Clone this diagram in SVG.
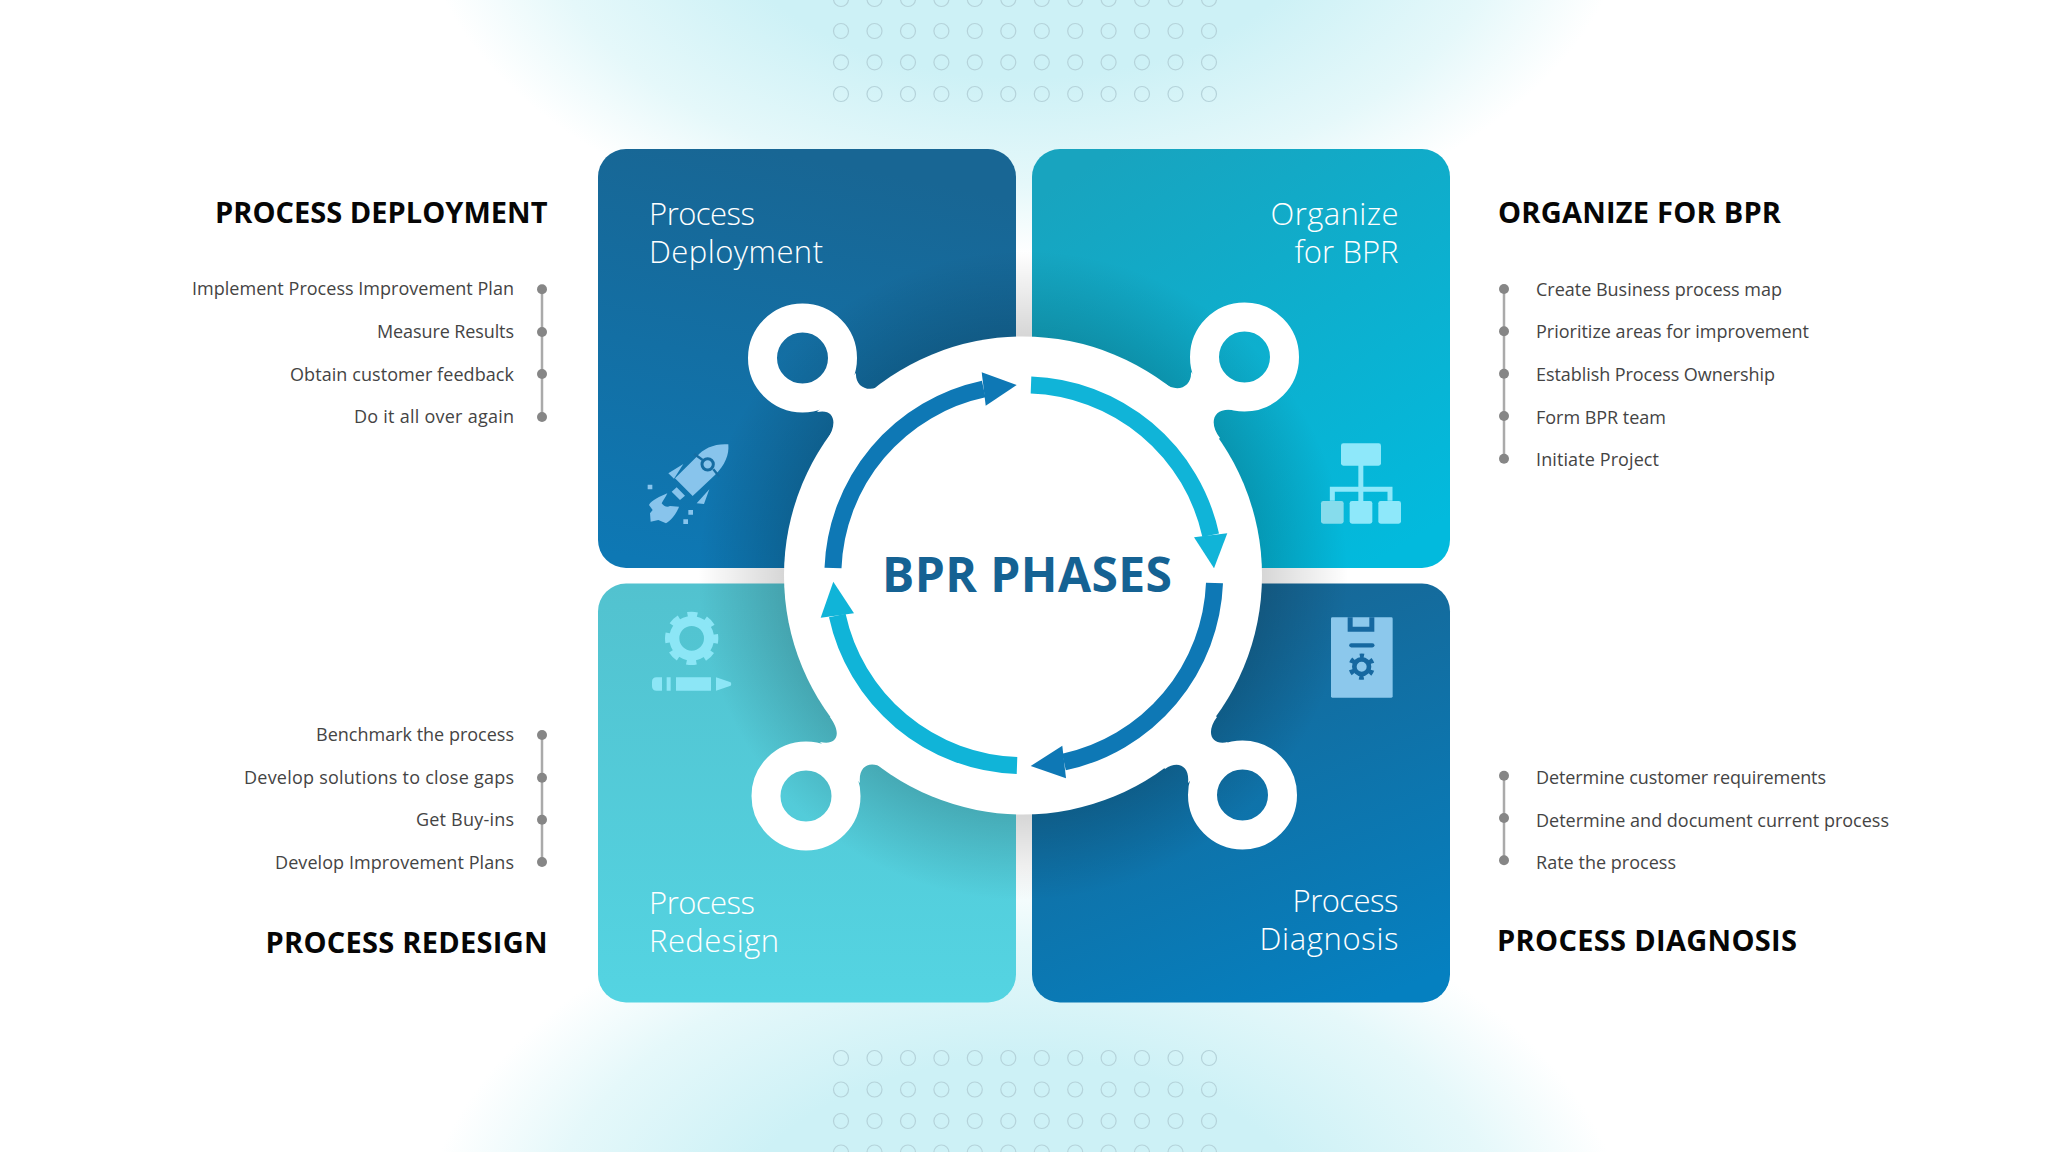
<svg xmlns="http://www.w3.org/2000/svg" xmlns:xlink="http://www.w3.org/1999/xlink" width="2048" height="1152" viewBox="0 0 2048 1152">
<defs>
<radialGradient id="glowT" gradientUnits="userSpaceOnUse" cx="0" cy="0" r="1" gradientTransform="translate(1024 -100) scale(605 355)"><stop offset="0.5" stop-color="#cdf1f6"/><stop offset="0.8" stop-color="#e5f8fa"/><stop offset="1" stop-color="#ffffff"/></radialGradient>
<radialGradient id="glowB" gradientUnits="userSpaceOnUse" cx="0" cy="0" r="1" gradientTransform="translate(1024 1252) scale(605 385)"><stop offset="0.5" stop-color="#cdf1f6"/><stop offset="0.8" stop-color="#e5f8fa"/><stop offset="1" stop-color="#ffffff"/></radialGradient>
<linearGradient id="gTL" x1="0.4" y1="0" x2="0.2" y2="1"><stop offset="0" stop-color="#186694"/><stop offset="1" stop-color="#0e78b4"/></linearGradient>
<linearGradient id="gTR" x1="0.2" y1="0" x2="0.8" y2="1"><stop offset="0" stop-color="#18a4bf"/><stop offset="1" stop-color="#02badd"/></linearGradient>
<linearGradient id="gBL" x1="0.5" y1="0" x2="0.5" y2="1"><stop offset="0" stop-color="#52c2cf"/><stop offset="1" stop-color="#54d4e2"/></linearGradient>
<linearGradient id="gBR" x1="0.4" y1="0" x2="0.8" y2="1"><stop offset="0" stop-color="#186694"/><stop offset="1" stop-color="#0580c0"/></linearGradient>
<radialGradient id="shade" gradientUnits="userSpaceOnUse" cx="1023" cy="575.5" r="325"><stop offset="0.72" stop-color="#000" stop-opacity="0.17"/><stop offset="0.85" stop-color="#000" stop-opacity="0.09"/><stop offset="1" stop-color="#000" stop-opacity="0"/></radialGradient>
<g id="dotrow"><circle cx="841" cy="0" r="7.5"/><circle cx="874.5" cy="0" r="7.5"/><circle cx="908" cy="0" r="7.5"/><circle cx="941.4" cy="0" r="7.5"/><circle cx="974.8" cy="0" r="7.5"/><circle cx="1008.3" cy="0" r="7.5"/><circle cx="1041.8" cy="0" r="7.5"/><circle cx="1075.2" cy="0" r="7.5"/><circle cx="1108.6" cy="0" r="7.5"/><circle cx="1142" cy="0" r="7.5"/><circle cx="1175.5" cy="0" r="7.5"/><circle cx="1209" cy="0" r="7.5"/></g>
</defs>
<style>
.h{font:700 29px "Open Sans","Noto Sans",sans-serif;fill:#060606}
.b{font:400 18px "Open Sans","Noto Sans",sans-serif;fill:#444444}
.t{font:300 31px "Open Sans","Noto Sans",sans-serif;fill:#ffffff}
.e{text-anchor:end}
.ln{stroke:#aaaaaa;stroke-width:2.5;fill:none}
.dt{fill:#868686}
.dots{fill:none;stroke:#b5d3da;stroke-width:1.2}
.arc{fill:none;stroke-width:17}
.w{fill:#ffffff}
.ring{fill:none;stroke:#ffffff;stroke-width:29}
</style>
<rect width="2048" height="1152" fill="#ffffff"/>
<g id="background">
<rect x="0" y="0" width="2048" height="260" fill="url(#glowT)"/>
<rect x="0" y="860" width="2048" height="292" fill="url(#glowB)"/>
<g class="dots">
<use xlink:href="#dotrow" href="#dotrow" y="-1"/><use xlink:href="#dotrow" href="#dotrow" y="31"/><use xlink:href="#dotrow" href="#dotrow" y="62.3"/><use xlink:href="#dotrow" href="#dotrow" y="94"/>
<use xlink:href="#dotrow" href="#dotrow" y="1058"/><use xlink:href="#dotrow" href="#dotrow" y="1089.5"/><use xlink:href="#dotrow" href="#dotrow" y="1121"/><use xlink:href="#dotrow" href="#dotrow" y="1152.5"/>
</g>
</g>
<g id="node-deployment">
<rect x="598" y="149" width="418" height="419" rx="28" fill="url(#gTL)"/>
<text class="t"><tspan x="649" y="225" textLength="106">Process</tspan><tspan x="649" y="263" textLength="174">Deployment</tspan></text>
</g>
<g id="node-organize">
<rect x="1032" y="149" width="418" height="419" rx="28" fill="url(#gTR)"/>
<text class="t e"><tspan x="1398.5" y="225" textLength="128">Organize</tspan><tspan x="1398.5" y="263" textLength="104">for BPR</tspan></text>
</g>
<g id="node-redesign">
<rect x="598" y="583.5" width="418" height="419" rx="28" fill="url(#gBL)"/>
<text class="t"><tspan x="649" y="913.5" textLength="106">Process</tspan><tspan x="649" y="952" textLength="130">Redesign</tspan></text>
</g>
<g id="node-diagnosis">
<rect x="1032" y="583.5" width="418" height="419" rx="28" fill="url(#gBR)"/>
<text class="t e"><tspan x="1398.5" y="911.5" textLength="106">Process</tspan><tspan x="1398.5" y="950" textLength="139">Diagnosis</tspan></text>
</g>
<circle id="shadow" cx="1023" cy="575.5" r="325" fill="url(#shade)"/>
<g id="icon-rocket" transform="translate(580 130) scale(0.33333)" fill="#88c4ec">
<path d="M445 943C405 940 370 955 350 980L285 1045L338 1098L405 1035C435 1005 448 975 445 943Z"/>
<path d="M343 972L368 990M400 1018L418 1040" stroke="#156ca2" stroke-width="7" fill="none"/>
<circle cx="383" cy="1003" r="17" stroke="#156ca2" stroke-width="9"/>
<path d="M265 1030L310 1002L282 1046ZM350 1120L388 1078L372 1122ZM290 1072L315 1097L300 1110L275 1085Z"/>
<path d="M262 1090C240 1100 215 1110 207 1125L218 1140L210 1150L212 1175L235 1170L258 1180C275 1170 290 1150 297 1130L270 1128C262 1134 250 1128 245 1120C250 1110 258 1100 262 1090Z"/>
<path d="M203 1064h14v14h-14ZM325 1140h14v14h-14ZM310 1168h14v14h-14Z"/>
</g>
<g id="icon-org" transform="translate(1020 130) scale(0.33333)" fill="#8ee8fa">
<rect x="963" y="940" width="120" height="67" rx="7"/>
<rect x="1015" y="1005" width="15" height="108"/>
<path d="M937 1112V1078H1110V1112" fill="none" stroke="#8ee8fa" stroke-width="15"/>
<rect x="903" y="1113" width="68" height="68" rx="7" fill="#86dcec"/><rect x="989" y="1113" width="68" height="68" rx="7"/><rect x="1075" y="1113" width="68" height="68" rx="7"/>
</g>
<g id="icon-gear" transform="translate(580 570) scale(0.33333)" fill="#8ce6f6">
<circle cx="335" cy="205" r="52" fill="none" stroke="#8ce6f6" stroke-width="30"/>
<circle cx="335" cy="205" r="72" fill="none" stroke="#8ce6f6" stroke-width="16" stroke-dasharray="30 26.55" stroke-dashoffset="15"/>
<path d="M246 322H230Q216 322 216 336V348Q216 362 230 362H246ZM260 322h12v40h-12ZM288 322h105v40h-105ZM408 322L452 337Q456 342 452 347L408 362Z"/>
</g>
<g id="icon-clipboard" transform="translate(1020 570) scale(0.33333)">
<rect x="933" y="142" width="185" height="241" rx="4" fill="#8cc8ec"/>
<path d="M983 142H1063V185H983ZM998 142V170H1048V142Z" fill="#1668a0" fill-rule="evenodd"/>
<path d="M994 226H1057" stroke="#1668a0" stroke-width="13" stroke-linecap="round"/>
<circle cx="1025" cy="290" r="22" fill="none" stroke="#1668a0" stroke-width="14"/>
<circle cx="1025" cy="290" r="33" fill="none" stroke="#1668a0" stroke-width="13" stroke-dasharray="14 20.56" stroke-dashoffset="7" transform="rotate(-90 1025 290)"/>
</g>
<g id="node-hub">
<path class="w" d="M856 373C855 386 868 394 882 385L1023 575L827 440C838 424 835 408 817 412Z"/>
<path class="w" d="M1191 372C1192 386 1178 394 1164 383L1023 575L1220 438C1209 424 1212 408 1232 410Z"/>
<path class="w" d="M820 742C836 746 843 735 830 717L1023 575L883 768C870 760 858 766 860 783Z"/>
<path class="w" d="M1228 742C1212 746 1205 733 1217 717L1023 575L1165 769C1178 760 1190 766 1188 783Z"/>
<circle class="w" cx="1023" cy="575.5" r="239"/>
<circle class="ring" cx="802.5" cy="358" r="40"/>
<circle class="ring" cx="1244.5" cy="357" r="40"/>
<circle class="ring" cx="806" cy="796" r="40"/>
<circle class="ring" cx="1242.5" cy="795" r="40"/>
<text x="1027" y="591.5" text-anchor="middle" textLength="290" style="font:700 48px 'Open Sans','Noto Sans',sans-serif;fill:#156293">BPR PHASES</text>
</g>
<g id="connectors">
<path class="arc" stroke="#0e78b5" d="M833 568A190.5 190.5 0 0 1 983.7 389"/><polygon fill="#0e78b5" points="981.7,372.3 1016.7,385 985.7,405.7"/>
<path class="arc" stroke="#10b4d8" d="M1031 385A191 191 0 0 1 1210.7 535.3"/><polygon fill="#10b4d8" points="1194,537.3 1214,568.3 1227.3,533.3"/>
<path class="arc" stroke="#0e78b5" d="M1214.5 583A191 191 0 0 1 1064 762"/><polygon fill="#0e78b5" points="1062.3,745.7 1030.7,766 1066,778.3"/>
<path class="arc" stroke="#10b4d8" d="M1017 765.5A190.5 190.5 0 0 1 837.3 615.5"/><polygon fill="#10b4d8" points="820.7,617.7 833.3,581.7 854,613.3"/>
</g>
<g id="list-deployment">
<text class="h e" x="547.5" y="222.7" textLength="332.5">PROCESS DEPLOYMENT</text>
<path class="ln" d="M542 289V417"/>
<circle class="dt" cx="542" cy="289.3" r="5"/><circle class="dt" cx="542" cy="332" r="5"/><circle class="dt" cx="542" cy="374" r="5"/><circle class="dt" cx="542" cy="417" r="5"/>
<text class="b e" x="514" y="295" textLength="322">Implement Process Improvement Plan</text>
<text class="b e" x="514" y="338" textLength="137">Measure Results</text>
<text class="b e" x="514" y="380.5" textLength="224">Obtain customer feedback</text>
<text class="b e" x="514" y="423" textLength="160">Do it all over again</text>
</g>
<g id="list-organize">
<text class="h" x="1498" y="222.7" textLength="283">ORGANIZE FOR BPR</text>
<path class="ln" d="M1504 289V458.7"/>
<circle class="dt" cx="1504" cy="289" r="5"/><circle class="dt" cx="1504" cy="331.3" r="5"/><circle class="dt" cx="1504" cy="373.7" r="5"/><circle class="dt" cx="1504" cy="416" r="5"/><circle class="dt" cx="1504" cy="458.7" r="5"/>
<text class="b" x="1536" y="295.7" textLength="246">Create Business process map</text>
<text class="b" x="1536" y="338" textLength="273">Prioritize areas for improvement</text>
<text class="b" x="1536" y="381" textLength="239">Establish Process Ownership</text>
<text class="b" x="1536" y="423.7" textLength="130">Form BPR team</text>
<text class="b" x="1536" y="466" textLength="123">Initiate Project</text>
</g>
<g id="list-redesign">
<text class="h e" x="547.5" y="952.7" textLength="282">PROCESS REDESIGN</text>
<path class="ln" d="M542 735V862"/>
<circle class="dt" cx="542" cy="735" r="5"/><circle class="dt" cx="542" cy="777.7" r="5"/><circle class="dt" cx="542" cy="819.7" r="5"/><circle class="dt" cx="542" cy="862" r="5"/>
<text class="b e" x="514" y="741" textLength="198">Benchmark the process</text>
<text class="b e" x="514" y="783.7" textLength="270">Develop solutions to close gaps</text>
<text class="b e" x="514" y="826" textLength="98">Get Buy-ins</text>
<text class="b e" x="514" y="868.7" textLength="239">Develop Improvement Plans</text>
</g>
<g id="list-diagnosis">
<text class="h" x="1497" y="951" textLength="300">PROCESS DIAGNOSIS</text>
<path class="ln" d="M1504 775.7V860.3"/>
<circle class="dt" cx="1504" cy="775.7" r="5"/><circle class="dt" cx="1504" cy="818" r="5"/><circle class="dt" cx="1504" cy="860.3" r="5"/>
<text class="b" x="1536" y="784" textLength="290">Determine customer requirements</text>
<text class="b" x="1536" y="827" textLength="353">Determine and document current process</text>
<text class="b" x="1536" y="869.3" textLength="140">Rate the process</text>
</g>
</svg>
